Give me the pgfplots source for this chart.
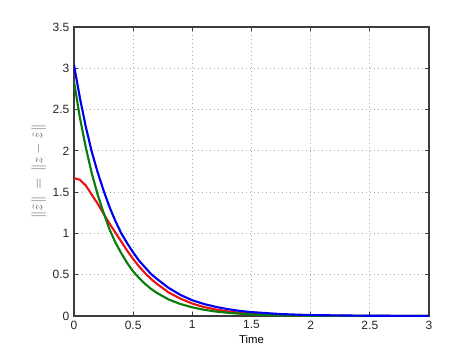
\documentclass[border=0pt]{standalone}
\usepackage{pgfplots}
\pgfplotsset{compat=1.18}
\usepackage{fontspec}
\setmainfont{Liberation Sans}
\definecolor{mblue}{RGB}{0,0,240}
\definecolor{mred}{RGB}{235,20,20}
\definecolor{mgreen}{RGB}{10,125,10}
\definecolor{frame}{RGB}{60,60,60}
\begin{document}
\begin{tikzpicture}
\path[use as bounding box] (-55.5pt,-29.25pt) rectangle (300pt,237pt);
\begin{axis}[
  at={(0,0)}, anchor=south west,
  scale only axis, width=266.25pt, height=216.75pt,
  xmin=0, xmax=3, ymin=0, ymax=3.5,
  xtick={0,0.5,...,3}, ytick={0,0.5,...,3.5},
  xticklabels={0,0.5,1,1.5,2,2.5,3},
  yticklabels={0,0.5,1,1.5,2,2.5,3,3.5},
  tick align=inside, tick pos=both,
  major tick length=3pt,
  grid=major,
  major grid style={dash pattern=on 0.7pt off 2.3pt, gray!65, line width=0.6pt},
  axis line style={frame, line width=0.9pt},
  tick style={frame, line width=0.6pt},
  ticklabel style={font=\fontsize{9}{10}\selectfont, text=black!85},
  /pgf/number format/assume math mode=true,
  xlabel={Time},
  xlabel style={font=\fontsize{8.5}{10}\selectfont, yshift=2pt},
  ylabel={$\|\tilde z\| \,=\, \|z-\hat z\|$},
  ylabel style={font=\fontsize{11}{13}\selectfont, text=gray!85!black, yshift=-2pt},
]
\addplot[mred, line width=1.6pt] coordinates {
(0,1.67) (0.05,1.65) (0.1,1.58) (0.15,1.47) (0.2,1.36) (0.25,1.24) (0.3,1.12)
(0.35,1.01) (0.4,0.90) (0.45,0.79) (0.5,0.69) (0.55,0.60) (0.6,0.52) (0.65,0.45)
(0.7,0.39) (0.8,0.285) (0.9,0.21) (1.0,0.15) (1.1,0.108) (1.2,0.078) (1.3,0.055)
(1.4,0.039) (1.5,0.028) (1.75,0.012) (2,0.005) (2.5,0.001) (3,0)
};
\addplot[mgreen, line width=1.6pt] coordinates {
(0,2.84) (0.05,2.40) (0.1,2.04) (0.15,1.73) (0.2,1.47) (0.25,1.25) (0.3,1.05)
(0.35,0.89) (0.4,0.76) (0.45,0.64) (0.5,0.54) (0.55,0.46) (0.6,0.39) (0.65,0.33)
(0.7,0.28) (0.8,0.20) (0.9,0.145) (1.0,0.105) (1.1,0.075) (1.2,0.054) (1.3,0.039)
(1.4,0.028) (1.5,0.02) (1.75,0.007) (2,0.003) (2.5,0) (3,0)
};
\addplot[mblue, line width=1.6pt] coordinates {
(0,3.04) (0.05,2.64) (0.1,2.29) (0.15,1.99) (0.2,1.74) (0.25,1.52) (0.3,1.32)
(0.35,1.15) (0.4,1.00) (0.45,0.88) (0.5,0.77) (0.55,0.67) (0.6,0.59) (0.65,0.51)
(0.7,0.45) (0.8,0.34) (0.9,0.255) (1.0,0.19) (1.1,0.145) (1.2,0.11) (1.3,0.083)
(1.4,0.062) (1.5,0.047) (1.75,0.023) (2,0.011) (2.5,0.003) (3,0.001)
};
\end{axis}
\end{tikzpicture}
\end{document}
